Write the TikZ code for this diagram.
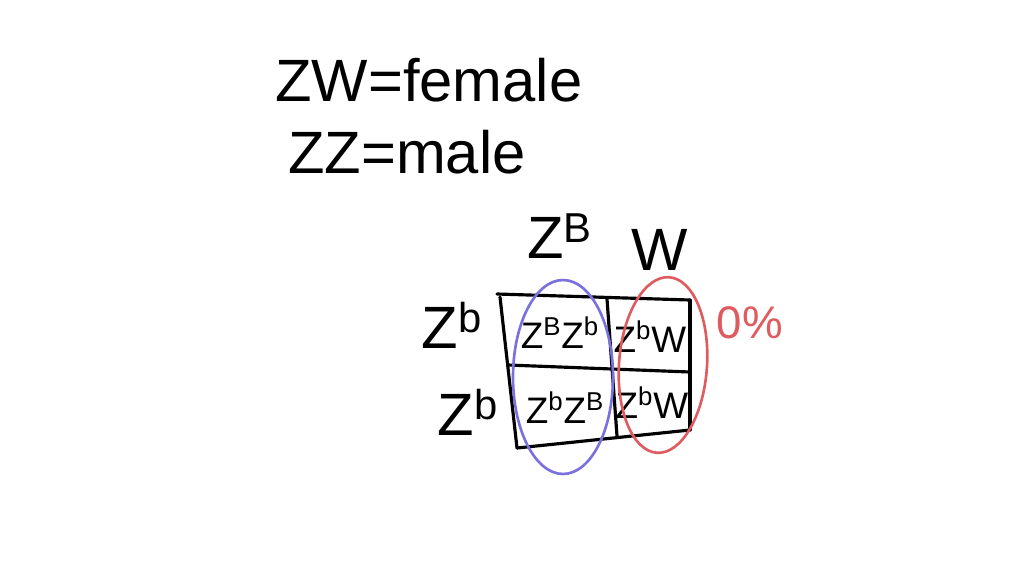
\documentclass[tikz,border=0pt]{standalone}
\usepackage{fontspec}
\setmainfont{Liberation Sans}
\definecolor{loopblue}{RGB}{122,112,222}
\definecolor{loopred}{RGB}{222,92,96}
\begin{document}
\begin{tikzpicture}[
    x=0.02cm, y=-0.02cm,
    rule/.style={font=\fontsize{34}{40}\selectfont, inner sep=0pt},
    allele/.style={font=\fontsize{34}{40}\selectfont, inner sep=0pt},
    cell/.style={font=\fontsize{21}{26}\selectfont, inner sep=0pt},
    gridline/.style={line width=1.8pt, black, line cap=round},
    blueloop/.style={draw=loopblue, line width=1.5pt},
    redloop/.style={draw=loopred, line width=1.5pt}
  ]
  \useasboundingbox (0,0) rectangle (1024,576);

  % Sex rules
  \node[rule, anchor=west] (female) at (275,80) {ZW=female};
  \node[rule, anchor=west] (male) at (288,152) {ZZ=male};

  % Parent alleles
  \node[allele] (zB) at (560,236) {Z\textsuperscript{B}};
  \node[allele] (w) at (660,250) {W};
  \node[allele] (zb1) at (452,325) {Z\textsuperscript{b}};
  \node[allele] (zb2) at (468,412) {Z\textsuperscript{b}};

  % Grid corners
  \coordinate (tl) at (497,294);
  \coordinate (tm) at (607,299);
  \coordinate (tr) at (690,300);
  \coordinate (ml) at (508,365);
  \coordinate (mr) at (690,372);
  \coordinate (bl) at (517,448);
  \coordinate (bm) at (617,436);
  \coordinate (br) at (690,430);

  % Grid
  \draw[gridline] (tl) -- (tr);
  \draw[gridline] (500,297) -- (bl);
  \draw[gridline] (tm) -- (bm);
  \draw[gridline] (tr) -- (br);
  \draw[gridline] (ml) -- (mr);
  \draw[gridline] (bl) -- (br);

  % Offspring
  \node[cell] (c11) at (560,333) {Z\textsuperscript{B}Z\textsuperscript{b}};
  \node[cell] (c12) at (650,337) {Z\textsuperscript{b}W};
  \node[cell] (c21) at (565,408) {Z\textsuperscript{b}Z\textsuperscript{B}};
  \node[cell] (c22) at (652,403) {Z\textsuperscript{b}W};

  % Loops
  \draw[blueloop] (563,377) ellipse [x radius=1cm, y radius=1.94cm];
  \draw[redloop, rotate around={-4:(663,365)}] (663,365) ellipse [x radius=0.88cm, y radius=1.76cm];
  \node[font=\fontsize{26}{30}\selectfont, text=loopred, inner sep=0pt] (pct) at (750,323) {0\%};

\end{tikzpicture}
\end{document}
